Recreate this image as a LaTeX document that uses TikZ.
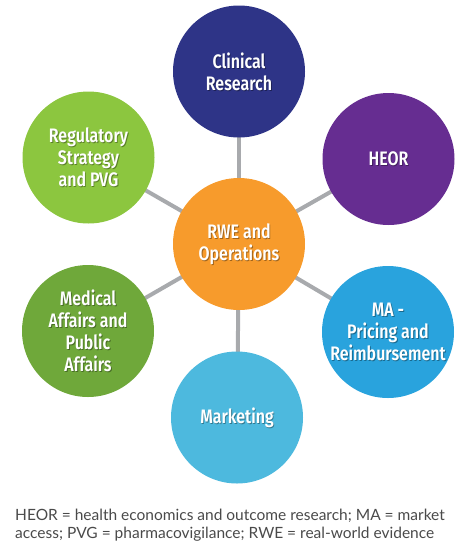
\documentclass[tikz,border=0pt]{standalone}
\usepackage{fontspec}
\setmainfont{Lato}
\newfontfamily\circfont[FakeStretch=0.82]{Fira Sans SemiBold}
\usetikzlibrary{backgrounds}
\definecolor{cClin}{HTML}{2E3487}
\definecolor{cHeor}{HTML}{662D91}
\definecolor{cReg}{HTML}{8CC63F}
\definecolor{cMed}{HTML}{6FA83A}
\definecolor{cMA}{HTML}{29A3DD}
\definecolor{cMkt}{HTML}{4DB9DE}
\definecolor{cRwe}{HTML}{F79B2C}
\definecolor{cLink}{HTML}{A8AAAD}
\definecolor{cNote}{HTML}{4A4A4A}
\tikzset{
  hub/.style={circle, minimum size=132pt, inner sep=0pt, fill=#1},
  hubtext/.style={align=center, inner sep=0pt, font=\circfont\fontsize{19.5}{22}\selectfont},
  link/.style={draw=cLink, line width=4pt},
  note/.style={anchor=base west, inner sep=0pt, text=cNote, font=\fontsize{15.5}{18}\selectfont},
}
\newcommand{\hubnode}[4]{%
  \node[hub=#2] (#1) at (#3) {};
  \node[hubtext, text=black, opacity=0.35] (#1-sh) at ([xshift=0.9pt,yshift=-0.9pt]#1.center) {#4};
  \node[hubtext, text=white] (#1-t) at (#1.center) {#4};
}
\begin{document}
\begin{tikzpicture}[x=1pt,y=-1pt]
\useasboundingbox (0,0) rectangle (474,547);
\hubnode{rwe}{cRwe}{239,244}{RWE and\\Operations}
\hubnode{clin}{cClin}{239,71.5}{Clinical\\Research}
\hubnode{heor}{cHeor}{388.5,159}{HEOR}
\hubnode{reg}{cReg}{88.5,157.5}{Regulatory\\Strategy\\and PVG}
\hubnode{med}{cMed}{88,331}{Medical\\Affairs and\\Public\\Affairs}
\hubnode{ma}{cMA}{388,332}{MA -\\Pricing and\\Reimbursement}
\hubnode{mkt}{cMkt}{237,417.5}{Marketing}
\begin{scope}[on background layer]
  \foreach \n in {clin,heor,reg,med,ma,mkt} \draw[link] (rwe.center) -- (\n.center);
\end{scope}
\node[note] (note1) at (15,520) {HEOR = health economics and outcome research; MA = market};
\node[note] (note2) at (15,538) {access; PVG = pharmacovigilance; RWE = real-world evidence};
\end{tikzpicture}
\end{document}
